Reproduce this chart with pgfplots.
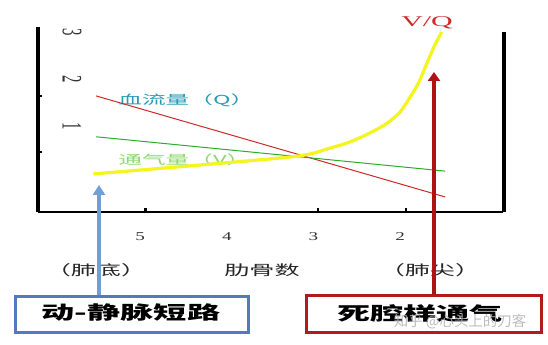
\documentclass[border=0pt]{standalone}
\usepackage{graphicx}
\usepackage{pgfplots}
\pgfplotsset{compat=1.18}
\usetikzlibrary{arrows.meta}
\usepackage{fontspec}
\setmainfont{Liberation Serif}
\newfontfamily\cjk{Noto Sans CJK SC}
\definecolor{qred}{HTML}{D02828}
\definecolor{vgreen}{HTML}{2AAE2A}
\definecolor{vqyellow}{HTML}{F4F41E}
\definecolor{qlabel}{HTML}{2A9BB5}
\definecolor{vlabel}{HTML}{8FD870}
\definecolor{arrblue}{HTML}{6F9FD8}
\definecolor{boxblue}{HTML}{5579BE}
\definecolor{arrred}{HTML}{B01212}
\definecolor{boxred}{HTML}{B01C1C}
\begin{document}
\begin{tikzpicture}
\useasboundingbox (0bp,0bp) rectangle (548bp,345bp);
\fill[white] (0bp,0bp) rectangle (548bp,345bp);
\begin{scope}[x=1bp,y=1bp]
\node[anchor=west, text=qlabel, font=\cjk\fontsize{12.5}{12.5}\selectfont, xscale=1.9, inner sep=0pt] at (118,245) {血流量（Q）};
\node[anchor=west, text=vlabel, font=\cjk\fontsize{12.5}{12.5}\selectfont, xscale=1.9, inner sep=0pt] at (118,185) {通气量（V）};
\end{scope}
\begin{axis}[
  at={(38bp,133bp)}, anchor=south west,
  scale only axis, width=465bp, height=185bp,
  xmin=0.813, xmax=6.18, x dir=reverse,
  ymin=-0.83, ymax=3.106,
  axis x line*=bottom, axis y line*=left,
  x axis line style={line width=2.2bp, -},
  y axis line style={line width=3.2bp, -},
  tick align=inside,
  xtick={5,4,3,2}, ytick={1,2,3},
  major tick length=0pt,
  xticklabel={\scalebox{1.6}[1]{\pgfmathprintnumber{\tick}}},
  yticklabel={\scalebox{2.1}[1.1]{\rotatebox{-90}{\pgfmathprintnumber{\tick}}}},
  /pgf/number format/assume math mode=true,
  xticklabel style={anchor=center, yshift=-25bp, font=\fontsize{12}{12}\selectfont, text=black!80},
  yticklabel style={anchor=center, xshift=34bp, font=\fontsize{13.5}{13.5}\selectfont, text=black!80},
  extra x ticks={4.94,2.95,1.93}, extra x tick labels={},
  extra x tick style={major tick length=4bp, tick style={line width=2.5bp, black}},
  extra y ticks={1.64,0.45}, extra y tick labels={},
  extra y tick style={major tick length=4bp, tick style={line width=1.5bp, black}},
  clip=false,
]
\addplot[qred, line width=1bp] coordinates {(5.51,1.64) (1.48,-0.51)};
\addplot[vgreen, line width=1bp] coordinates {(5.51,0.77) (1.48,0.04)};
\addplot[vqyellow, line width=3.2bp, smooth] coordinates {
  (5.54,-0.02) (4.31,0.17) (3.18,0.36) (2.81,0.53) (2.58,0.66)
  (2.35,0.85) (2.15,1.06) (2.00,1.30) (1.89,1.60) (1.79,1.91)
  (1.69,2.34) (1.60,2.72) (1.52,3.00)};
\end{axis}
\begin{scope}[x=1bp,y=1bp]
\draw[line width=3.5bp] (504,133) -- (504,313);
\node[text=qred, font=\fontsize{15}{15}\selectfont, xscale=2, inner sep=0pt] at (427,322) {V/Q};
\node[font=\cjk\fontsize{14}{14}\selectfont, xscale=1.8, inner sep=0pt, text=black!85] at (96,75) {（肺底）};
\node[font=\cjk\fontsize{14}{14}\selectfont, xscale=1.8, inner sep=0pt, text=black!85] at (262,75) {肋骨数};
\node[font=\cjk\fontsize{14}{14}\selectfont, xscale=1.8, inner sep=0pt, text=black!85] at (430,75) {（肺尖）};
\draw[arrblue, line width=3.5bp, -{Triangle[width=12bp,length=10bp]}] (99,48) -- (99,160);
\draw[arrred, line width=3.5bp, -{Triangle[width=12bp,length=9bp]}] (434,49) -- (434,273);
\draw[boxblue, line width=3bp, fill=white] (15,12) rectangle (248,48);
\draw[boxred, line width=3bp, fill=white] (306,12) rectangle (541,49);
\node[font=\cjk\bfseries\fontsize{18.5}{18.5}\selectfont, xscale=1.8, inner sep=0pt] at (131,32) {动-静脉短路};
\node[font=\cjk\bfseries\fontsize{18.5}{18.5}\selectfont, xscale=1.8, inner sep=0pt] at (420,32) {死腔样通气};
\node[font=\cjk\fontsize{14.5}{14.5}\selectfont, text=black!30, opacity=0.85, inner sep=0pt] at (460,23) {知乎 @心头上的刀客};
\end{scope}
\end{tikzpicture}
\end{document}
